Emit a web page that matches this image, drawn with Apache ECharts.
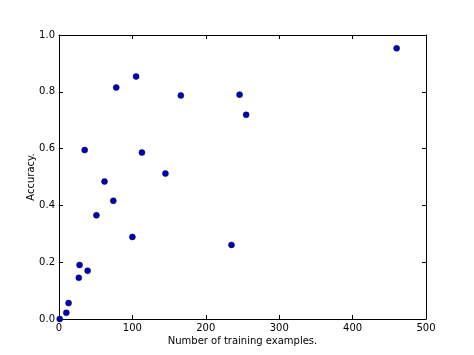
<!DOCTYPE html>
<html>
<head>
<meta charset="utf-8">
<script src="https://cdn.jsdelivr.net/npm/echarts@6/dist/echarts.min.js"></script>
<style>html,body{margin:0;padding:0;background:#fff;}#c{width:474px;height:355px;}</style>
</head>
<body>
<div id="c"></div>
<script>
var trainingExamples = [1, 10, 13, 27, 28, 39, 35, 51, 62, 74, 78, 105, 100, 113, 145, 166, 235, 246, 255, 460];
var accuracy = [0.0, 0.022, 0.056, 0.145, 0.19, 0.17, 0.595, 0.365, 0.484, 0.416, 0.815, 0.854, 0.289, 0.586, 0.512, 0.787, 0.261, 0.79, 0.719, 0.953];
var xTicks = [0, 100, 200, 300, 400, 500];
var yTicks = [0.0, 0.2, 0.4, 0.6, 0.8, 1.0];

var pts = trainingExamples.map(function (x, i) { return [x, accuracy[i]]; });
var font = 'DejaVu Sans';
var chart = echarts.init(document.getElementById('c'), null, {renderer: 'canvas'});
var tickStyle = {show: true, inside: true, length: 4, lineStyle: {color: '#000', width: 1}};
var lineStyle = {show: true, onZero: false, lineStyle: {color: '#000', width: 1}};
chart.setOption({
  backgroundColor: '#fff',
  animation: false,
  grid: {left: 59, top: 35, right: 48, bottom: 36, containLabel: false},
  xAxis: [{
    type: 'value', min: xTicks[0], max: xTicks[xTicks.length - 1], interval: xTicks[1] - xTicks[0],
    position: 'bottom',
    name: 'Number of training examples.', nameLocation: 'middle', nameGap: 17, nameMoveOverlap: false,
    nameTextStyle: {fontFamily: font, fontSize: 10, color: '#000'},
    axisLine: lineStyle, axisTick: tickStyle, splitLine: {show: false},
    axisLabel: {fontFamily: font, fontSize: 10, color: '#000', margin: 4}
  }, {
    type: 'value', min: xTicks[0], max: xTicks[xTicks.length - 1], interval: xTicks[1] - xTicks[0],
    position: 'top', axisLine: lineStyle, axisTick: tickStyle, splitLine: {show: false},
    axisLabel: {show: false}
  }],
  yAxis: [{
    type: 'value', min: yTicks[0], max: yTicks[yTicks.length - 1], interval: 0.2,
    position: 'left',
    name: 'Accuracy.', nameLocation: 'middle', nameGap: 23, nameRotate: 90, nameMoveOverlap: false,
    nameTextStyle: {fontFamily: font, fontSize: 10, color: '#000'},
    axisLine: lineStyle, axisTick: tickStyle, splitLine: {show: false},
    axisLabel: {fontFamily: font, fontSize: 10, color: '#000', margin: 4,
      formatter: function (v) { return v.toFixed(1); }}
  }, {
    type: 'value', min: yTicks[0], max: yTicks[yTicks.length - 1], interval: 0.2,
    position: 'right', axisLine: lineStyle, axisTick: tickStyle, splitLine: {show: false},
    axisLabel: {show: false}
  }],
  series: [{
    type: 'scatter', xAxisIndex: 0, yAxisIndex: 0,
    data: pts, symbol: 'circle', symbolSize: 6,
    itemStyle: {color: '#0000b8', borderColor: '#000033', borderWidth: 0.5, opacity: 1},
    clip: true
  }]
});
</script>
</body>
</html>
